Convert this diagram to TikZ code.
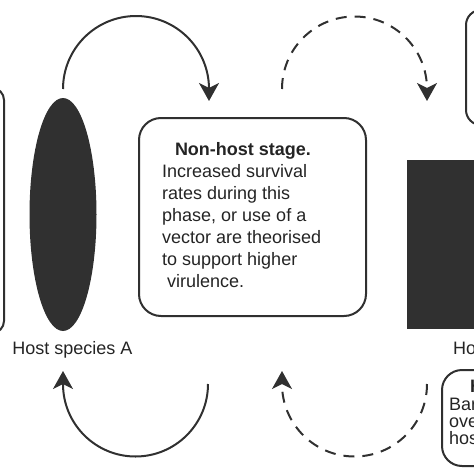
\documentclass[tikz,border=0pt]{standalone}
\usepackage{fontspec}
\setmainfont{Liberation Sans}
\usetikzlibrary{arrows.meta}
\definecolor{ink}{HTML}{303030}
\definecolor{txt}{HTML}{242424}
\tikzset{
  boxline/.style={draw=ink, line width=2pt},
  blob/.style={fill=ink, draw=none},
  solidarc/.style={draw=ink, line width=2pt, -{Stealth[length=18pt,width=20pt,inset=5pt]}},
  dasharc/.style={draw=ink, line width=2pt, dash pattern=on 11pt off 8pt, -{Stealth[length=18pt,width=20pt,inset=5pt]}},
  lbl/.style={text=txt, inner sep=0pt, font=\fontsize{18}{22}\selectfont},
}
\begin{document}
\begin{tikzpicture}[x=1pt,y=-1pt]
\useasboundingbox (0,0) rectangle (474,474);
\clip (0,0) rectangle (474,474);
% partial boxes at the edges
\draw[boxline, rounded corners=12pt] (-40,88) rectangle (4,333);
\draw[boxline, rounded corners=15pt] (466,10) rectangle (520,125);
\draw[boxline, rounded corners=20pt] (442,370) rectangle (520,466);
% host A ellipse
\fill[blob] (63,214.5) ellipse [x radius=33.5, y radius=116.5];
\node[lbl, anchor=base] (hostA) at (72.5,354) {Host species A};
% host B block
\fill[blob] (407,160) rectangle (480,329);
\node[lbl, anchor=base west] (hostB) at (453,354) {Ho};
% bottom right box text
\node[lbl, anchor=base west, font=\fontsize{18}{22}\selectfont\bfseries] (bhead) at (470,392) {H};
\node[lbl, anchor=base west] (b1) at (449,410) {Bar};
\node[lbl, anchor=base west] (b2) at (449,427) {ove};
\node[lbl, anchor=base west] (b3) at (449,444) {hos};
% central box
\node[boxline, rounded corners=22pt, minimum width=227pt, minimum height=198pt] (nonhost) at (252.5,217) {};
\node[lbl, anchor=base, font=\fontsize{18}{22}\selectfont\bfseries] (title) at (243,155) {Non-host stage.};
\node[lbl, anchor=north west, align=left] (body) at (162,164) {Increased survival\\rates during this\\phase, or use of a\\vector are theorised\\to support higher\\\ virulence.};
% arc anchors
\coordinate (a1) at (63,89);   \coordinate (a1e) at (209,89);  \coordinate (a1t) at (209,101);
\coordinate (d1) at (282,89);  \coordinate (d1e) at (427,89);  \coordinate (d1t) at (427,101);
\coordinate (a2) at (208,384); \coordinate (a2e) at (63,384);  \coordinate (a2t) at (63,371);
\coordinate (d2) at (427,384); \coordinate (d2e) at (282,384); \coordinate (d2t) at (282,371);
\draw[solidarc] (a1) arc[start angle=180, end angle=360, radius=73] -- (a1t);
\draw[dasharc] (d1) arc[start angle=180, end angle=360, radius=72.5] -- (d1t);
\draw[solidarc] (a2) arc[start angle=0, end angle=180, radius=72.5] -- (a2t);
\draw[dasharc] (d2) arc[start angle=0, end angle=180, radius=72.5] -- (d2t);
\end{tikzpicture}
\end{document}
